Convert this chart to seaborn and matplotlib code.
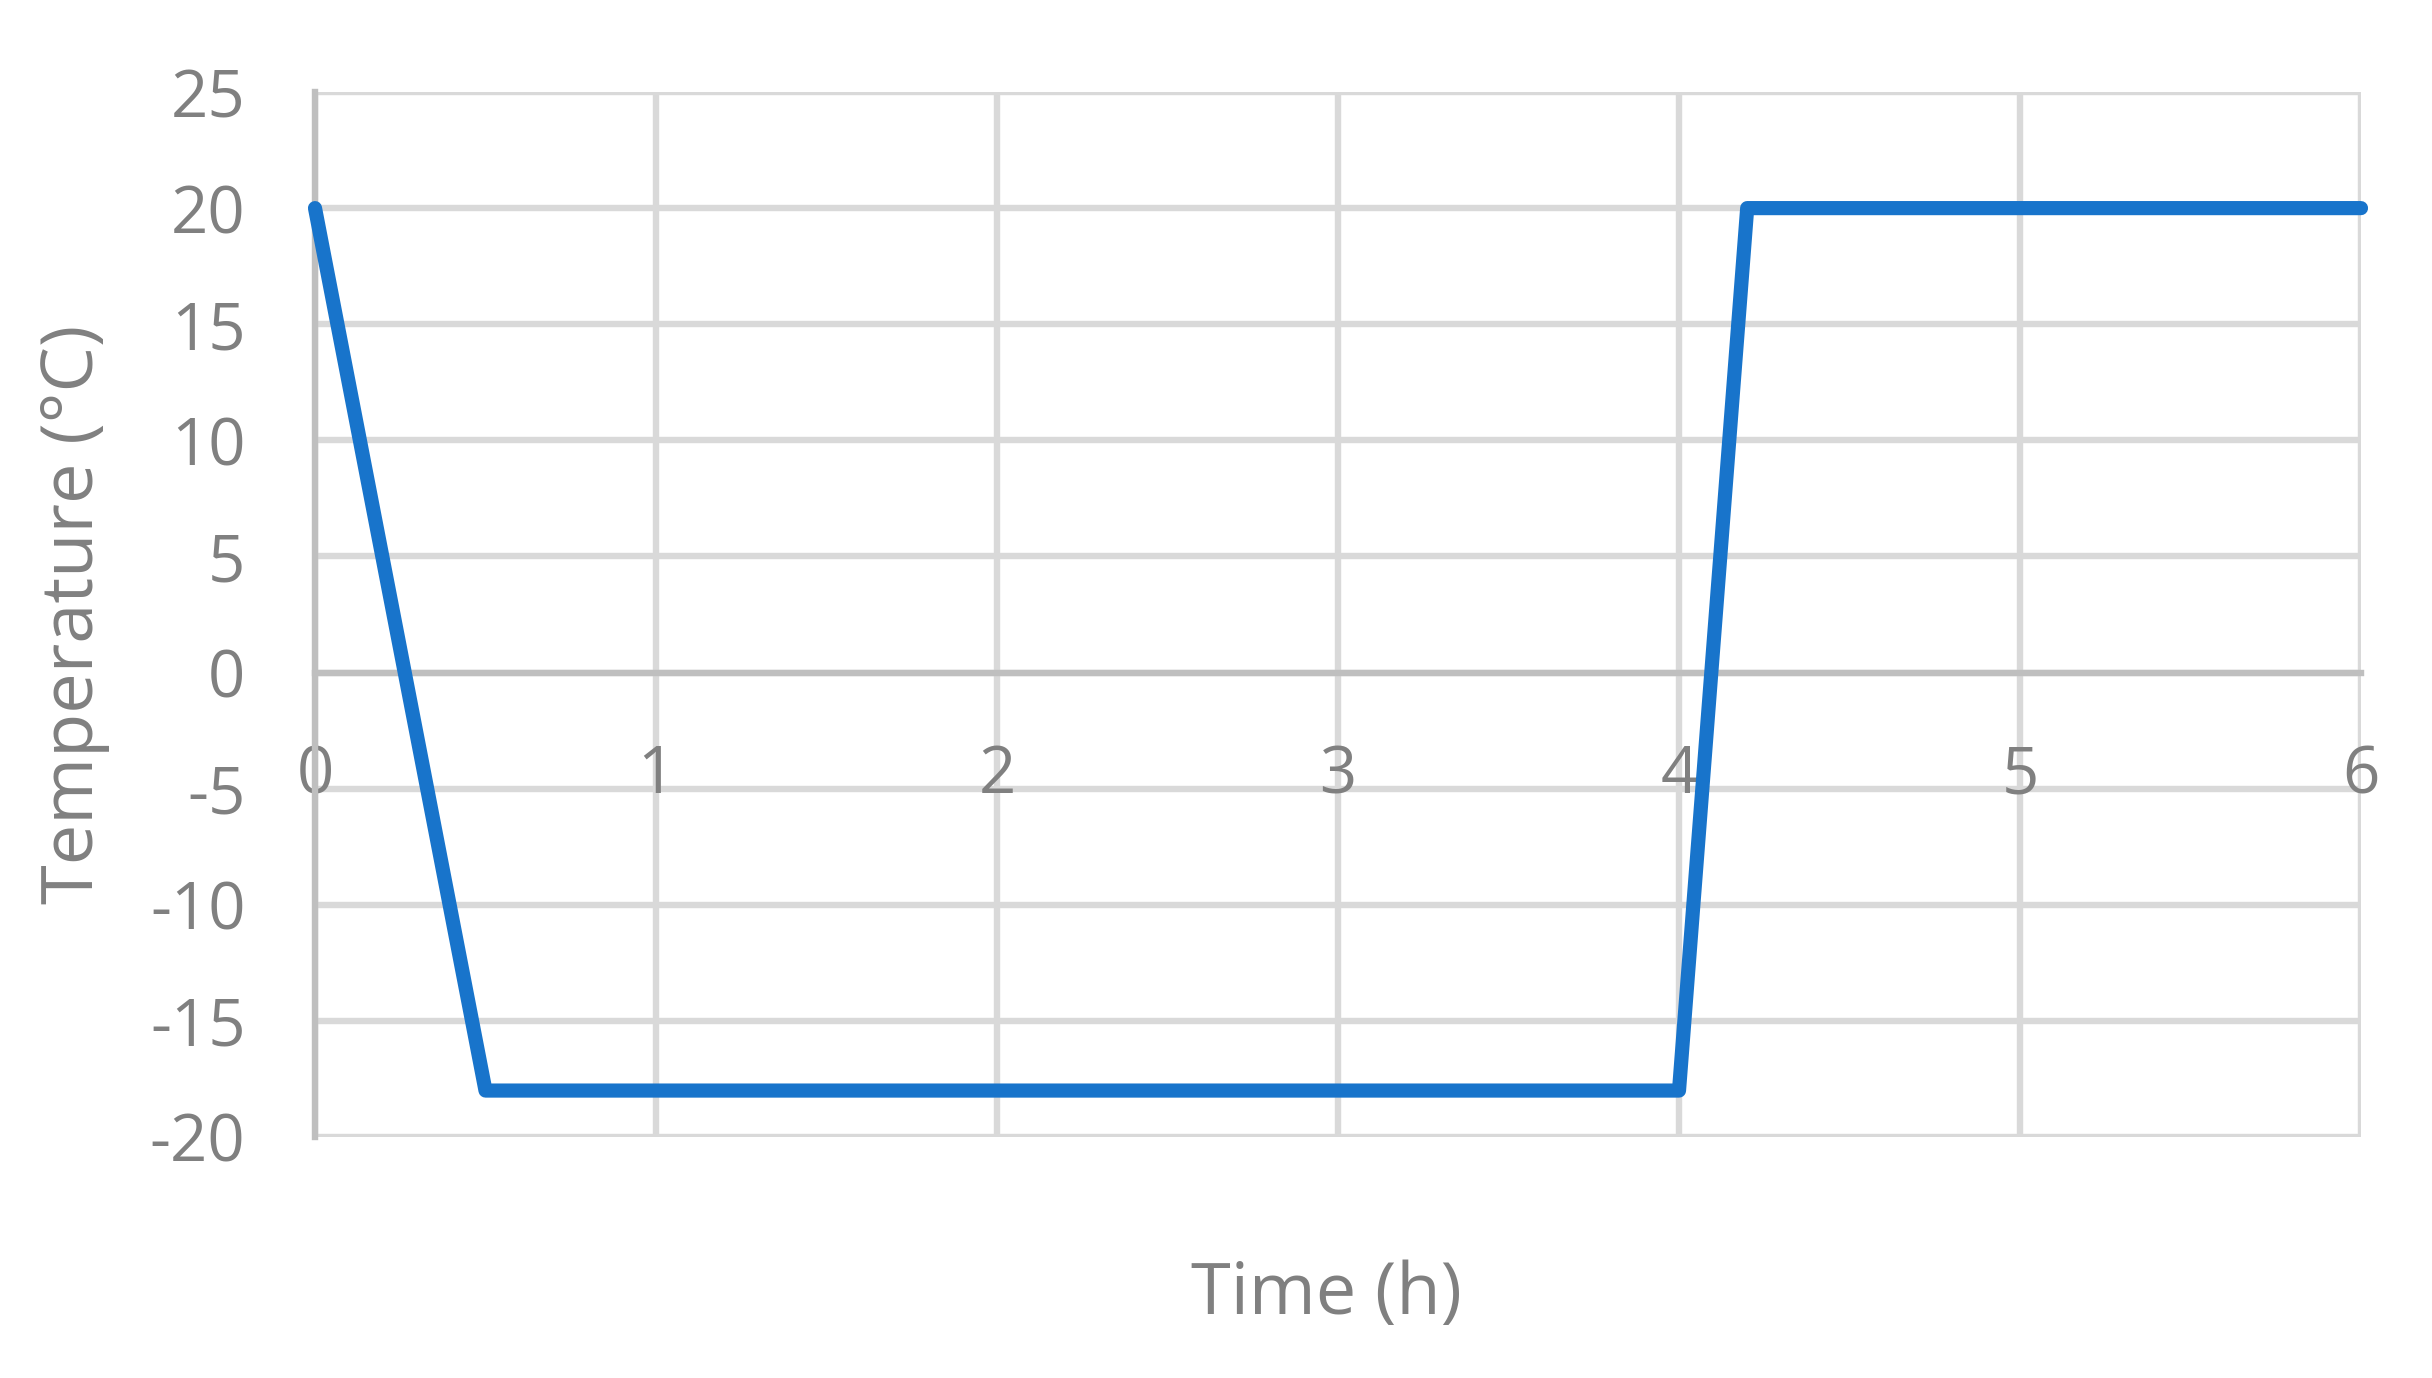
import matplotlib
matplotlib.use("Agg")
import matplotlib.pyplot as plt
import seaborn as sns
import pandas as pd

time_h = [0, 0.5, 4, 4.2, 6]
temperature_c = [20, -18, -18, 20, 20]
x_ticks = [0, 1, 2, 3, 4, 5, 6]
y_ticks = [-20, -15, -10, -5, 0, 5, 10, 15, 20, 25]

sns.set_theme(style="white")
plt.rcParams['font.family'] = ['Open Sans', 'DejaVu Sans']

df = pd.DataFrame({"Time (h)": time_h, "Temperature (°C)": temperature_c})

W, H = 2432, 1378
fig = plt.figure(figsize=(W / 100, H / 100), dpi=100)
x0, x1, y0, y1 = 315, 2361, 92, 1137
ax = fig.add_axes([x0 / W, 1 - y1 / H, (x1 - x0) / W, (y1 - y0) / H])

sns.lineplot(data=df, x="Time (h)", y="Temperature (°C)", ax=ax, color="#1874CB",
             linewidth=10.2, solid_capstyle="round", solid_joinstyle="round",
             clip_on=False, zorder=5)

ax.set_xlim(0, 6)
ax.set_ylim(-20, 25)
ax.set_xticks(x_ticks)
ax.set_yticks(y_ticks)
ax.set_xticklabels([str(v) for v in x_ticks])
ax.set_yticklabels([str(v) for v in y_ticks])

ax.grid(True, color="#D9D9D9", linewidth=4.6)
ax.set_axisbelow(True)
ax.yaxis.set_zorder(0.5)
ax.xaxis.set_zorder(1.0)

for s in ["top", "right"]:
    ax.spines[s].set_visible(False)
ax.spines["left"].set_color("#BFBFBF")
ax.spines["left"].set_linewidth(4.6)
ax.spines["left"].set_zorder(3)
ax.spines["bottom"].set_position(("data", 0))
ax.spines["bottom"].set_color("#BFBFBF")
ax.spines["bottom"].set_linewidth(4.6)
ax.spines["bottom"].set_zorder(3)

ax.tick_params(axis="x", length=0, pad=51, labelsize=47, labelcolor="#808080")
ax.tick_params(axis="y", length=0, pad=50, labelsize=47, labelcolor="#808080")

ax.set_xlabel("Time (h)", fontsize=52, color="#808080")
ax.set_ylabel("Temperature (°C)", fontsize=52, color="#808080")
ax.xaxis.set_label_coords((1326 - x0) / (x1 - x0), (y1 - 1295) / (y1 - y0))
ax.xaxis.label.set_va("center")
ax.yaxis.set_label_coords((74 - x0) / (x1 - x0), 0.5)
ax.yaxis.label.set_va("center")

fig.savefig("out.png", dpi=100, facecolor="white")
